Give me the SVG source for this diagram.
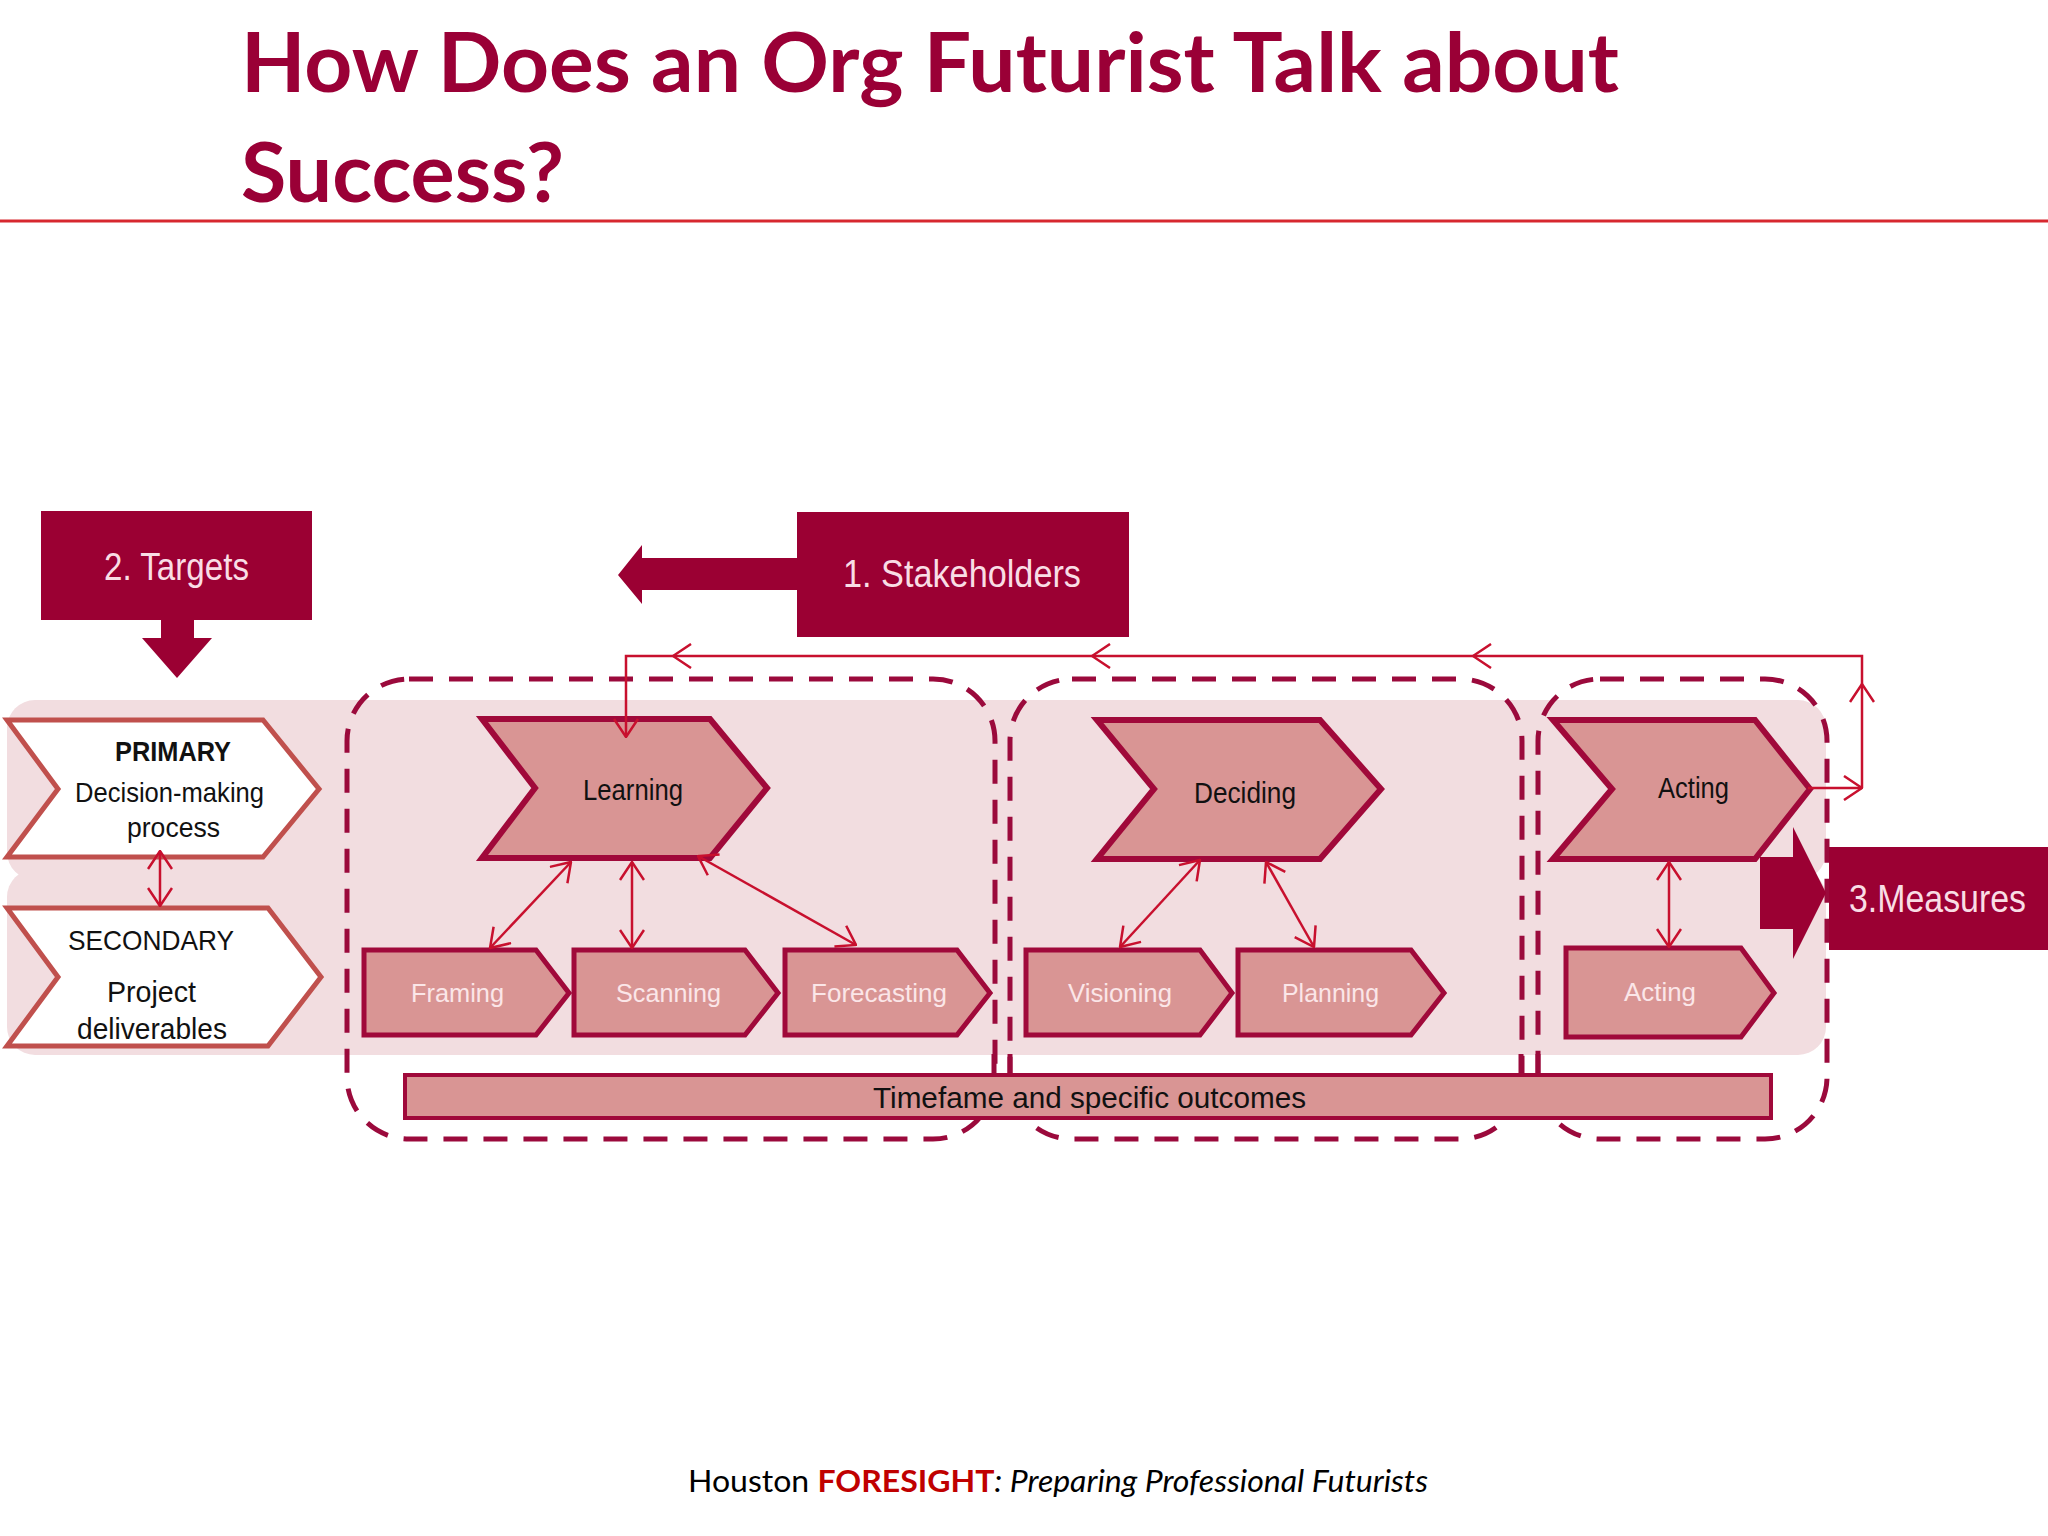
<svg xmlns="http://www.w3.org/2000/svg" width="2048" height="1536" viewBox="0 0 2048 1536">
<defs>
<style>
.title{font-family:Lato,"Open Sans",sans-serif;font-weight:700;font-size:83px;fill:#9a0036}
.foot{font-family:Lato,"Open Sans",sans-serif;font-size:30px;fill:#000}
.box{fill:#9b0033}
.boxt{font-family:"Liberation Sans",Arial,sans-serif;font-size:38px;fill:#f9dde5}
.band{fill:#f2dde0}
.dash{fill:none;stroke:#9b0a3c;stroke-width:5;stroke-dasharray:24 16}
.wchev{fill:#ffffff;stroke:#c0504d;stroke-width:5;stroke-linejoin:miter}
.chev{fill:#d99594;stroke:#a0093a;stroke-width:6;stroke-linejoin:miter}
.schev{fill:#d99594;stroke:#a0093a;stroke-width:5;stroke-linejoin:miter}
.dt{font-family:"Liberation Sans",Arial,sans-serif;font-size:28px;fill:#111}
.bt{font-family:"Liberation Sans",Arial,sans-serif;font-size:30px;fill:#111}
.st{font-family:"Liberation Sans",Arial,sans-serif;font-size:26px;fill:#fbe6e8}
.conn{fill:none;stroke:#c8102e;stroke-width:2.5}
</style>
<marker id="ah" viewBox="0 0 20 26" refX="19" refY="13" markerWidth="20" markerHeight="26" markerUnits="userSpaceOnUse" orient="auto-start-reverse">
<path d="M1,1 L19,13 L1,25" fill="none" stroke="#c8102e" stroke-width="2.5"/>
</marker>
</defs>
<rect width="2048" height="1536" fill="#ffffff"/>

<g id="title">
<text class="title" x="241" y="92" textLength="1378" lengthAdjust="spacingAndGlyphs">How Does an Org Futurist Talk about</text>
<text class="title" x="241" y="202" textLength="323" lengthAdjust="spacingAndGlyphs">Success?</text>
<line x1="0" y1="221" x2="2048" y2="221" stroke="#d7282f" stroke-width="3"/>
</g>

<g id="band">
<rect class="band" x="7" y="700" width="1819" height="180" rx="28"/>
<rect class="band" x="7" y="869" width="1819" height="186" rx="28"/>
</g>

<g id="group-learning"><rect class="dash" x="347" y="679" width="648" height="460" rx="62"/></g>
<g id="group-deciding"><rect class="dash" x="1010" y="679" width="512" height="460" rx="62"/></g>
<g id="group-acting"><rect class="dash" x="1538" y="679" width="289" height="460" rx="62"/></g>
<g id="gap-lines" stroke="#9b0a3c" stroke-width="5">
<line x1="994" y1="1054" x2="994" y2="1076"/>
<line x1="1010" y1="1054" x2="1010" y2="1076"/>
<line x1="1521" y1="1054" x2="1521" y2="1076"/>
<line x1="1538" y1="1054" x2="1538" y2="1076"/>
</g>

<g id="timeframe">
<rect x="405" y="1075" width="1366" height="43" fill="#d99594" stroke="#a0093a" stroke-width="4"/>
<text class="bt" x="873" y="1108" font-size="34" textLength="433" lengthAdjust="spacingAndGlyphs">Timefame and specific outcomes</text>
</g>

<g id="targets">
<rect class="box" x="41" y="511" width="271" height="109"/>
<polygon class="box" points="161,618 194,618 194,638 212,638 177,678 142,638 161,638"/>
<text class="boxt" x="104" y="580" textLength="145" lengthAdjust="spacingAndGlyphs">2. Targets</text>
</g>

<g id="stakeholders">
<rect class="box" x="797" y="512" width="332" height="125"/>
<polygon class="box" points="798,558 642,558 642,545 618,575 642,604 642,590 798,590"/>
<text class="boxt" x="843" y="587" font-size="37" textLength="238" lengthAdjust="spacingAndGlyphs">1. Stakeholders</text>
</g>

<g id="measures">
<polygon class="box" points="1760,857 1793,857 1793,827 1826,893 1793,959 1793,929 1760,929"/>
<rect class="box" x="1829" y="847" width="219" height="103"/>
<text class="boxt" x="1849" y="912" textLength="177" lengthAdjust="spacingAndGlyphs">3.Measures</text>
</g>

<g id="primary">
<polygon class="wchev" points="7,720 263,720 319,789 263,857 7,857 58,789"/>
<text class="dt" x="115" y="761" font-weight="700" textLength="116" lengthAdjust="spacingAndGlyphs">PRIMARY</text>
<text class="dt" x="75" y="802" textLength="189" lengthAdjust="spacingAndGlyphs">Decision-making</text>
<text class="dt" x="127" y="837" textLength="93" lengthAdjust="spacingAndGlyphs">process</text>
</g>

<g id="secondary">
<polygon class="wchev" points="7,908 268,908 321,977 268,1046 7,1046 58,977"/>
<text class="dt" x="68" y="950" textLength="166" lengthAdjust="spacingAndGlyphs">SECONDARY</text>
<text class="bt" x="107" y="1002" textLength="89" lengthAdjust="spacingAndGlyphs">Project</text>
<text class="bt" x="77" y="1039" textLength="150" lengthAdjust="spacingAndGlyphs">deliverables</text>
</g>

<g id="learning">
<polygon class="chev" points="482,719 710,719 767,788 710,858 482,858 535,788"/>
<text class="bt" x="583" y="800" textLength="100" lengthAdjust="spacingAndGlyphs">Learning</text>
</g>
<g id="deciding">
<polygon class="chev" points="1097,720 1320,720 1381,789 1320,859 1097,859 1154,789"/>
<text class="bt" x="1194" y="803" textLength="102" lengthAdjust="spacingAndGlyphs">Deciding</text>
</g>
<g id="acting">
<polygon class="chev" points="1553,720 1755,720 1810,789 1755,859 1553,859 1612,789"/>
<text class="bt" x="1658" y="798" textLength="71" lengthAdjust="spacingAndGlyphs">Acting</text>
</g>

<g id="framing">
<polygon class="schev" points="364,950 536,950 569,993 536,1035 364,1035"/>
<text class="st" x="411" y="1002" textLength="93" lengthAdjust="spacingAndGlyphs">Framing</text>
</g>
<g id="scanning">
<polygon class="schev" points="574,950 745,950 778,993 745,1035 574,1035"/>
<text class="st" x="616" y="1002" textLength="105" lengthAdjust="spacingAndGlyphs">Scanning</text>
</g>
<g id="forecasting">
<polygon class="schev" points="785,950 957,950 990,993 957,1035 785,1035"/>
<text class="st" x="811" y="1002" textLength="136" lengthAdjust="spacingAndGlyphs">Forecasting</text>
</g>
<g id="visioning">
<polygon class="schev" points="1026,950 1200,950 1232,993 1200,1035 1026,1035"/>
<text class="st" x="1068" y="1002" textLength="104" lengthAdjust="spacingAndGlyphs">Visioning</text>
</g>
<g id="planning">
<polygon class="schev" points="1238,950 1411,950 1444,993 1411,1035 1238,1035"/>
<text class="st" x="1282" y="1002" textLength="97" lengthAdjust="spacingAndGlyphs">Planning</text>
</g>
<g id="acting-small">
<polygon class="schev" points="1566,948 1741,948 1774,993 1741,1037 1566,1037"/>
<text class="st" x="1624" y="1001" textLength="72" lengthAdjust="spacingAndGlyphs">Acting</text>
</g>

<g id="connectors">
<line class="conn" x1="160" y1="851" x2="160" y2="906" marker-start="url(#ah)" marker-end="url(#ah)"/>
<line class="conn" x1="571" y1="862" x2="490" y2="948" marker-start="url(#ah)" marker-end="url(#ah)"/>
<line class="conn" x1="632" y1="862" x2="632" y2="948" marker-start="url(#ah)" marker-end="url(#ah)"/>
<line class="conn" x1="698" y1="856" x2="856" y2="945" marker-start="url(#ah)" marker-end="url(#ah)"/>
<line class="conn" x1="1200" y1="860" x2="1120" y2="947" marker-start="url(#ah)" marker-end="url(#ah)"/>
<line class="conn" x1="1266" y1="862" x2="1314" y2="947" marker-start="url(#ah)" marker-end="url(#ah)"/>
<line class="conn" x1="1669" y1="862" x2="1669" y2="947" marker-start="url(#ah)" marker-end="url(#ah)"/>
<line class="conn" x1="1808" y1="788" x2="1862" y2="788" marker-end="url(#ah)"/>
<line class="conn" x1="1862" y1="788" x2="1862" y2="684" marker-end="url(#ah)"/>
<polyline class="conn" points="1862,684 1862,656 1473,656" marker-end="url(#ah)"/>
<line class="conn" x1="1473" y1="656" x2="1092" y2="656" marker-end="url(#ah)"/>
<line class="conn" x1="1092" y1="656" x2="673" y2="656" marker-end="url(#ah)"/>
<polyline class="conn" points="673,656 626,656 626,737" marker-end="url(#ah)"/>
</g>

<g id="footer">
<text class="foot" x="688" y="1492" textLength="740" lengthAdjust="spacingAndGlyphs">Houston <tspan font-weight="700" fill="#c00000">FORESIGHT</tspan><tspan font-style="italic">: Preparing Professional Futurists</tspan></text>
</g>
</svg>
